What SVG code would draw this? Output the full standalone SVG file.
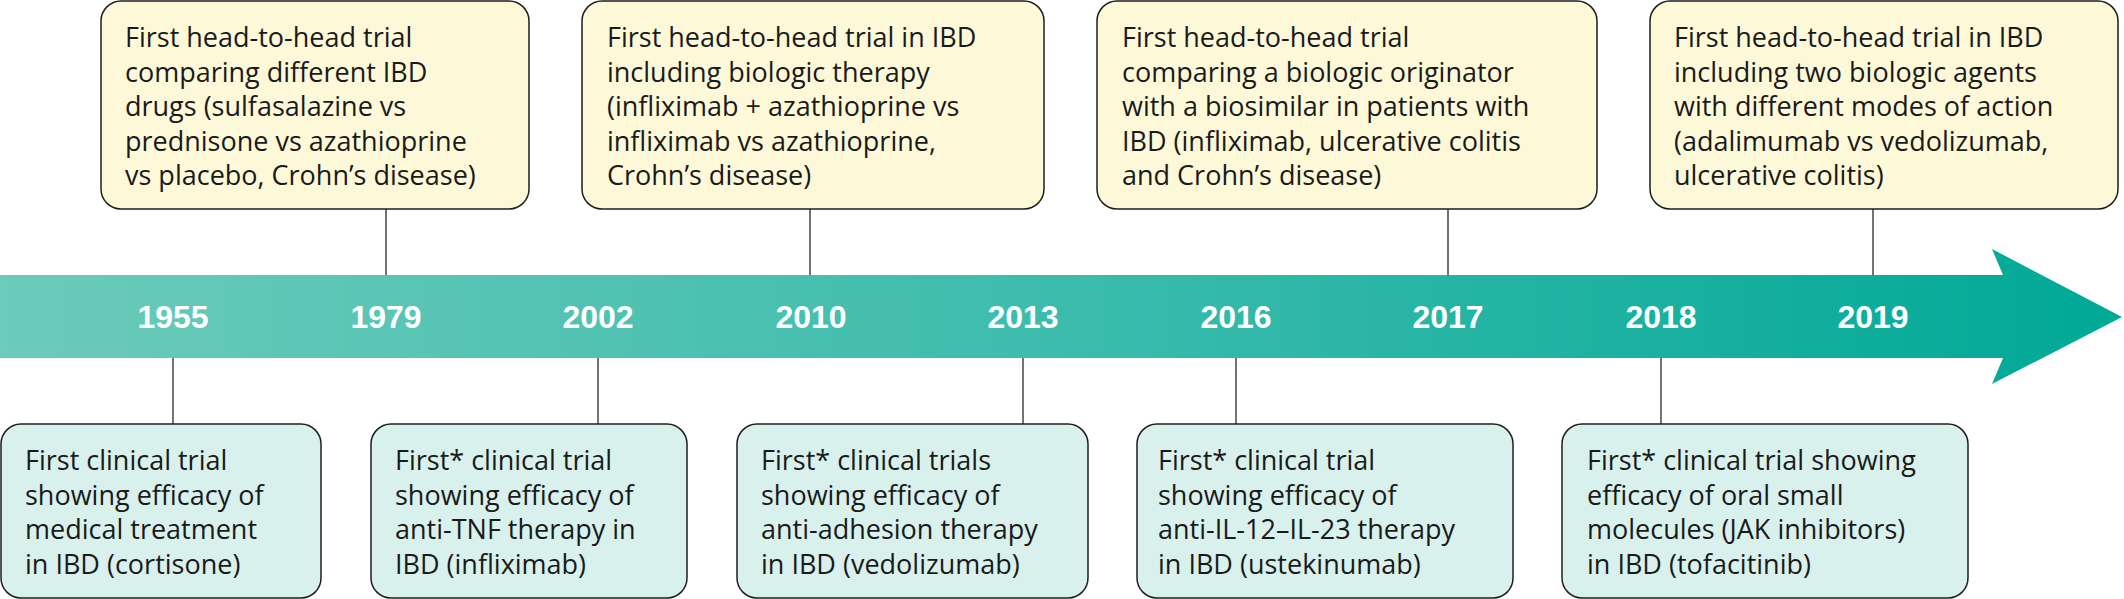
<svg xmlns="http://www.w3.org/2000/svg" width="2124" height="599" viewBox="0 0 2124 599">
<defs>
<linearGradient id="barGrad" gradientUnits="userSpaceOnUse" x1="0" y1="0" x2="2124" y2="0">
<stop offset="0" stop-color="#6ccbba"/>
<stop offset="0.5" stop-color="#3cbcad"/>
<stop offset="1" stop-color="#00a896"/>
</linearGradient>
<style>
.top rect{fill:#fdf9d8;stroke:#1e1e1e;stroke-width:1.5}
.bot rect{fill:#d8f1ec;stroke:#1e1e1e;stroke-width:1.5}
.t{font-family:"Open Sans","Liberation Sans",sans-serif;font-size:27px;fill:#1a1a1a}
.yr{font-family:"Liberation Sans",Arial,sans-serif;font-size:32px;font-weight:bold;fill:#ffffff;text-anchor:middle}
.conn line{stroke:#444;stroke-width:1.5}
</style>
</defs>
<g id="timeline">
<polygon points="0,275 2003,275 1992,249 2122,317 1992,384 2003,358 0,358" fill="url(#barGrad)"/>
<text class="yr" x="173" y="328">1955</text>
<text class="yr" x="386" y="328">1979</text>
<text class="yr" x="598" y="328">2002</text>
<text class="yr" x="811" y="328">2010</text>
<text class="yr" x="1023" y="328">2013</text>
<text class="yr" x="1236" y="328">2016</text>
<text class="yr" x="1448" y="328">2017</text>
<text class="yr" x="1661" y="328">2018</text>
<text class="yr" x="1873" y="328">2019</text>
</g>
<g id="connectors" class="conn">
<line x1="386" y1="209" x2="386" y2="275"/>
<line x1="810" y1="209" x2="810" y2="275"/>
<line x1="1448" y1="209" x2="1448" y2="275"/>
<line x1="1873" y1="209" x2="1873" y2="275"/>
<line x1="173" y1="358" x2="173" y2="424"/>
<line x1="598" y1="358" x2="598" y2="424"/>
<line x1="1023" y1="358" x2="1023" y2="424"/>
<line x1="1236" y1="358" x2="1236" y2="424"/>
<line x1="1661" y1="358" x2="1661" y2="424"/>
</g>
<g id="top1979" class="top">
<rect x="101" y="1" width="428" height="208" rx="20"/>
<text class="t"><tspan x="125" y="47">First head-to-head trial</tspan><tspan x="125" y="82">comparing different IBD</tspan><tspan x="125" y="116">drugs (sulfasalazine vs</tspan><tspan x="125" y="151">prednisone vs azathioprine</tspan><tspan x="125" y="185">vs placebo, Crohn’s disease)</tspan></text>
</g>
<g id="top2010" class="top">
<rect x="582" y="1" width="462" height="208" rx="20"/>
<text class="t"><tspan x="607" y="47">First head-to-head trial in IBD</tspan><tspan x="607" y="82">including biologic therapy</tspan><tspan x="607" y="116">(infliximab + azathioprine vs</tspan><tspan x="607" y="151">infliximab vs azathioprine,</tspan><tspan x="607" y="185">Crohn’s disease)</tspan></text>
</g>
<g id="top2017" class="top">
<rect x="1097" y="1" width="500" height="208" rx="20"/>
<text class="t"><tspan x="1122" y="47">First head-to-head trial</tspan><tspan x="1122" y="82">comparing a biologic originator</tspan><tspan x="1122" y="116">with a biosimilar in patients with</tspan><tspan x="1122" y="151">IBD (infliximab, ulcerative colitis</tspan><tspan x="1122" y="185">and Crohn’s disease)</tspan></text>
</g>
<g id="top2019" class="top">
<rect x="1650" y="1" width="468" height="208" rx="20"/>
<text class="t"><tspan x="1674" y="47">First head-to-head trial in IBD</tspan><tspan x="1674" y="82">including two biologic agents</tspan><tspan x="1674" y="116">with different modes of action</tspan><tspan x="1674" y="151">(adalimumab vs vedolizumab,</tspan><tspan x="1674" y="185">ulcerative colitis)</tspan></text>
</g>
<g id="bot1955" class="bot">
<rect x="1" y="424" width="320" height="174" rx="20"/>
<text class="t"><tspan x="25" y="470">First clinical trial</tspan><tspan x="25" y="505">showing efficacy of</tspan><tspan x="25" y="539">medical treatment</tspan><tspan x="25" y="574">in IBD (cortisone)</tspan></text>
</g>
<g id="bot2002" class="bot">
<rect x="371" y="424" width="316" height="174" rx="20"/>
<text class="t"><tspan x="395" y="470">First* clinical trial</tspan><tspan x="395" y="505">showing efficacy of</tspan><tspan x="395" y="539">anti-TNF therapy in</tspan><tspan x="395" y="574">IBD (infliximab)</tspan></text>
</g>
<g id="bot2013" class="bot">
<rect x="737" y="424" width="351" height="174" rx="20"/>
<text class="t"><tspan x="761" y="470">First* clinical trials</tspan><tspan x="761" y="505">showing efficacy of</tspan><tspan x="761" y="539">anti-adhesion therapy</tspan><tspan x="761" y="574">in IBD (vedolizumab)</tspan></text>
</g>
<g id="bot2016" class="bot">
<rect x="1137" y="424" width="376" height="174" rx="20"/>
<text class="t"><tspan x="1158" y="470">First* clinical trial</tspan><tspan x="1158" y="505">showing efficacy of</tspan><tspan x="1158" y="539">anti-IL-12–IL-23 therapy</tspan><tspan x="1158" y="574">in IBD (ustekinumab)</tspan></text>
</g>
<g id="bot2018" class="bot">
<rect x="1562" y="424" width="406" height="174" rx="20"/>
<text class="t"><tspan x="1587" y="470">First* clinical trial showing</tspan><tspan x="1587" y="505">efficacy of oral small</tspan><tspan x="1587" y="539">molecules (JAK inhibitors)</tspan><tspan x="1587" y="574">in IBD (tofacitinib)</tspan></text>
</g>
</svg>
